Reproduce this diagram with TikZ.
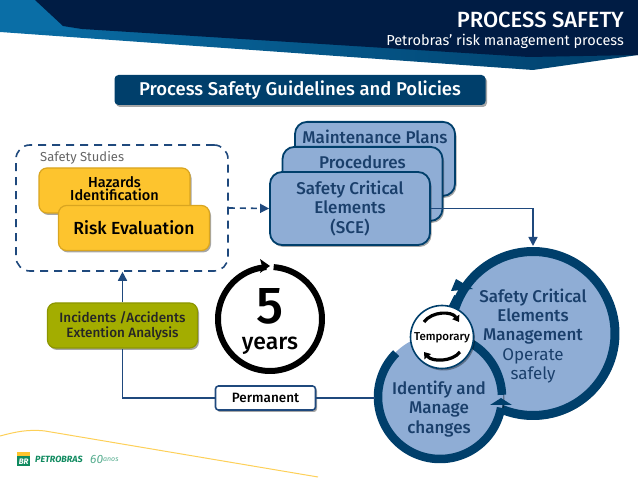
\documentclass[tikz,border=0pt]{standalone}
\usepackage{fontspec}
\setmainfont{Fira Sans}[BoldFont={Fira Sans Medium},BoldItalicFont={Fira Sans Bold Italic}]
\usetikzlibrary{arrows.meta,shadows,calc}
\definecolor{navy}{HTML}{001C44}
\definecolor{deep}{HTML}{003F6B}
\definecolor{teal}{HTML}{0A6EA6}
\definecolor{sky}{HTML}{8FADD5}
\definecolor{wire}{HTML}{1F497D}
\definecolor{amber}{HTML}{FDC42E}
\definecolor{amberline}{HTML}{D9A520}
\definecolor{olive}{HTML}{A3AD00}
\definecolor{oliveline}{HTML}{8C9600}
\definecolor{inktext}{HTML}{1A3F6B}
\definecolor{brgreen}{HTML}{0F8A5F}
\tikzset{
  softshadow/.style={drop shadow={shadow xshift=1.5pt,shadow yshift=-2pt,opacity=.35,fill=black}},
  bluebox/.style={draw=deep,line width=1.8pt,fill=sky,rounded corners=12pt,minimum width=160pt,text=inktext,font=\bfseries\fontsize{17}{19.3}\selectfont,align=center,softshadow},
  boxhead/.style={anchor=north,inner sep=0pt,text=inktext,font=\bfseries\fontsize{17}{19}\selectfont},
  yellowbox/.style={draw=amberline,line width=1.2pt,fill=amber,rounded corners=8pt,minimum width=151pt,text=black,align=center,softshadow},
  wireline/.style={draw=wire,line width=1.6pt},
  wirearrow/.style={wireline,-{Triangle[length=9pt,width=9pt]}},
  ring/.style={draw=deep,line width=8.5pt},
  blackarc/.style={draw=black,line width=3.2pt}
}
\begin{document}
\begin{tikzpicture}[x=1pt,y=-1pt]
\useasboundingbox (0,0) rectangle (638,478);
% header
\shade[left color=teal,right color=deep] (0,0) -- (40,0) -- (300,40) -- (638,55) -- (533,70) -- (0,32) -- cycle;
\fill[teal] (0,0) -- (36,0) -- (66,27) -- (80,30) -- (0,32) -- cycle;
\fill[navy] (35,0) -- (638,0) -- (638,55) -- (529,57) -- (82,29) -- (63,26) -- cycle;
\node[anchor=east,text=white,inner sep=0pt,font=\bfseries\fontsize{22}{22}\selectfont] (title) at (624,19.5) {PROCESS SAFETY};
\node[anchor=east,text=white,inner sep=0pt,font=\fontsize{14.5}{16}\selectfont] (subtitle) at (624,41) {Petrobras’ risk management process};
% guideline banner
\node[fill=deep,rounded corners=4pt,minimum width=371pt,minimum height=30pt,text=white,font=\bfseries\fontsize{18.5}{20}\selectfont,softshadow] (guide) at (300,90) {Process Safety Guidelines and Policies};
% yellow curve and logo
\draw[draw=amber!80,line width=1pt] (0,436) .. controls (15,432) and (28,429) .. (45,431) -- (318,477);
\fill[amber] (17,452) rectangle (30,456);
\node[fill=brgreen,text=white,inner sep=0pt,minimum width=13.5pt,minimum height=10pt,font=\bfseries\itshape\fontsize{8}{8}\selectfont] (brlogo) at (23.7,461.5) {BR};
\node[anchor=west,inner sep=0pt,text=brgreen,font=\bfseries\itshape\fontsize{9}{8}\selectfont] (petro) at (35,459.5) {PETROBRAS};
\node[anchor=west,inner sep=0pt,text=brgreen!70,font=\itshape\fontsize{12}{10}\selectfont] (sixty) at (90,459.5) {60};
\node[anchor=west,inner sep=0pt,text=brgreen!70,font=\itshape\fontsize{7}{8}\selectfont] (anos) at (103,459.5) {anos};
% stack of blue boxes
\node[bluebox,minimum height=74pt,anchor=north] (maint) at (375,121) {};
\node[boxhead] (mainttext) at (375,129.5) {Maintenance Plans};
\node[bluebox,minimum height=74pt,anchor=north] (proc) at (362.5,146) {};
\node[boxhead] (proctext) at (362.5,155.5) {Procedures};
\node[bluebox,minimum height=73pt] (sce) at (350,208.5) {Safety Critical\\Elements\\(SCE)};
% safety studies
\node[draw=wire,line width=1.6pt,dash pattern=on 8pt off 6pt,rounded corners=14pt,minimum width=212pt,minimum height=126pt] (studies) at (122,208) {};
\node[anchor=west,inner sep=0pt,text=black!60,font=\fontsize{13}{14}\selectfont] (studiestext) at (40,157.5) {Safety Studies};
\node[yellowbox,minimum height=45pt,font=\bfseries\fontsize{14.5}{13.5}\selectfont,text depth=4pt] (hazards) at (114.5,190.5) {Hazards\\Identification};
\node[yellowbox,minimum height=45pt,font=\bfseries\fontsize{17.5}{18}\selectfont] (risk) at (134,228) {Risk Evaluation};
\node[draw=oliveline,line width=1.2pt,fill=olive,rounded corners=8pt,minimum width=150pt,minimum height=45pt,align=center,text=black!85,font=\bfseries\fontsize{13.5}{15}\selectfont,softshadow] (incidents) at (122.5,325.5) {Incidents /Accidents\\Extention Analysis};
% five years
\coordinate (fivec) at (270,319);
\draw[black,line width=6pt] plot[domain=86:-266,samples=150] ({270+52*cos(\x)},{319-52*sin(\x)});
\fill[black] (270,266) -- (260,259) -- (262,266) -- (260,273) -- cycle;
\node[inner sep=0pt,font=\bfseries\fontsize{52}{52}\selectfont] (five) at (270,306) {5};
\node[inner sep=0pt,font=\bfseries\fontsize{23}{24}\selectfont] (years) at (270,345.5) {years};
% rings
\coordinate (bigc) at (533,333.5);
\coordinate (smallc) at (440,397);
\fill[sky,softshadow] (bigc) circle[radius=84pt];
\draw[ring,line width=9pt] plot[domain=146:-255,samples=200] ({533+82*cos(\x)},{333.5-82*sin(\x)});
\draw[ring] (452,309) -- (458,297);
\fill[deep] (456,279) -- (451,291) -- (473,289) -- cycle;
\node[inner sep=0pt,align=center,text=inktext,font=\fontsize{17}{19.2}\selectfont] (mgmt) at (533,336) {\textbf{Safety Critical}\\\textbf{Elements}\\\textbf{Management}\\Operate\\safely};
\fill[sky,softshadow] (smallc) circle[radius=63pt];
\draw[ring] plot[domain=-10:-225,samples=150] ({440+62*cos(\x)},{397-62*sin(\x)});
\draw[ring] plot[domain=2:60,samples=50] ({440+62*cos(\x)},{397-62*sin(\x)});
\fill[deep] (501,398) -- (490,405) -- (512,405) -- cycle;
\node[inner sep=0pt,align=center,text=inktext,font=\bfseries\fontsize{17}{19.2}\selectfont] (identify) at (439,409) {Identify and\\Manage\\changes};
\node[circle,draw=deep,line width=1.6pt,fill=white,minimum size=63pt,inner sep=0pt,softshadow] (temp) at (442,337) {};
\node[inner sep=0pt,font=\bfseries\fontsize{11.5}{12}\selectfont] (temptext) at (442,338) {Temporary};
\draw[blackarc,-{Triangle[length=6pt,width=8pt]}] (424,322) .. controls (432,311) and (452,311) .. (459,322);
\draw[blackarc,-{Triangle[length=6pt,width=8pt]}] (460,352) .. controls (452,362) and (432,362) .. (424,352);
% permanent
\node[draw=wire,line width=1.6pt,fill=white,rounded corners=3pt,minimum width=100pt,minimum height=24pt,font=\bfseries\fontsize{13.5}{14}\selectfont,softshadow] (perm) at (265.5,398) {Permanent};
% connectors
\draw[wireline] (perm.west) -| (incidents.south);
\coordinate (ringleft) at (375,398);
\draw[wireline] (perm.east) -- (ringleft);
\draw[wirearrow] (incidents.north) -- (incidents.north |- studies.south);
\draw[wirearrow,dash pattern=on 6pt off 5pt] (studies.east) -- (sce.west);
\coordinate (mgmttop) at (533,246);
\draw[wirearrow] (sce.east) -| (mgmttop);
\end{tikzpicture}
\end{document}
